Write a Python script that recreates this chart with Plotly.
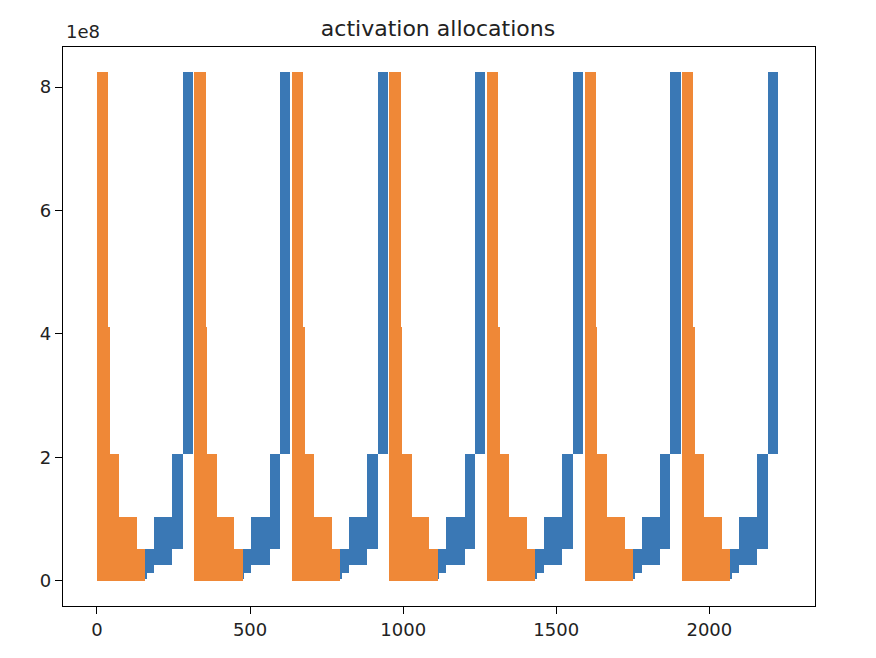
import plotly.graph_objects as go

# start of each repeated forward/backward cycle
period_starts = [0, 318, 637, 955, 1274, 1593, 1911]

# orange blocks within one cycle: offsets from cycle start, and heights
orange_left = [0, 37, 40, 73, 130]
orange_right = [37, 40, 73, 130, 158]
orange_top = [8.24e8, 4.12e8, 2.06e8, 1.03e8, 0.515e8]

# blue blocks within one cycle: offsets, bottoms and tops
blue_left = [158, 163, 186, 246, 280]
blue_right = [163, 186, 246, 280, 313]
blue_bottom = [0.03e8, 0.13e8, 0.26e8, 0.515e8, 2.06e8]
blue_top = [0.515e8, 0.515e8, 1.03e8, 2.06e8, 8.24e8]

y_ticks = [0, 2e8, 4e8, 6e8, 8e8]
y_tick_text = ["0", "2", "4", "6", "8"]
x_ticks = [0, 500, 1000, 1500, 2000]

BLUE = "#3a78b5"
ORANGE = "#ef8837"
TEXT = "#222222"


def blocks(lefts, rights, bottoms, tops):
    xs, ws, bs, hs = [], [], [], []
    for p in period_starts:
        for l, r, b, t in zip(lefts, rights, bottoms, tops):
            xs.append(p + (l + r) / 2)
            ws.append(r - l)
            bs.append(b)
            hs.append(t - b)
    return xs, ws, bs, hs


fig = go.Figure()

bx, bw, bb, bh = blocks(blue_left, blue_right, blue_bottom, blue_top)
fig.add_trace(go.Bar(x=bx, y=bh, base=bb, width=bw,
                     marker=dict(color=BLUE, line=dict(width=0))))

ox, ow, ob, oh = blocks(orange_left, orange_right, [0] * len(orange_top), orange_top)
fig.add_trace(go.Bar(x=ox, y=oh, base=ob, width=ow,
                     marker=dict(color=ORANGE, line=dict(width=0))))

axis_style = dict(showline=True, linecolor="black", linewidth=1.3, mirror=True,
                  ticks="outside", ticklen=7, tickwidth=1.3, tickcolor="black",
                  showgrid=False, zeroline=False,
                  tickfont=dict(size=18, color=TEXT))

# the page adds an 8px body margin, so margins are shifted to compensate
fig.update_layout(
    width=876, height=658,
    margin=dict(l=55, r=69, t=39, b=60),
    plot_bgcolor="white", paper_bgcolor="white",
    font=dict(family="DejaVu Sans", color=TEXT),
    barmode="overlay", bargap=0, showlegend=False,
    title=dict(text="activation allocations", x=430 / 876, xanchor="center",
               y=1 - 20 / 658, yanchor="middle", font=dict(size=22, color=TEXT)),
    xaxis=dict(range=[-111, 2345], tickvals=x_ticks, **axis_style),
    yaxis=dict(range=[-0.41e8, 8.65e8], tickvals=y_ticks, ticktext=y_tick_text,
               **axis_style),
)

fig.add_annotation(text="1e8", xref="paper", yref="paper", x=0, y=1,
                   xanchor="left", yanchor="bottom", yshift=3, xshift=1,
                   showarrow=False, font=dict(size=18, color=TEXT))

fig.write_html("out.html")
